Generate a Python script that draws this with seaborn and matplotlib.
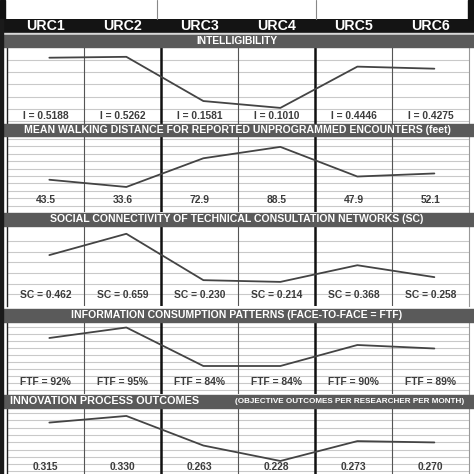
import numpy as np
import pandas as pd
import seaborn as sns
import matplotlib.pyplot as plt
from matplotlib.patches import Rectangle
from matplotlib.lines import Line2D
from matplotlib.transforms import blended_transform_factory

# dados
urcs = ['URC1', 'URC2', 'URC3', 'URC4', 'URC5', 'URC6']
intelligibility = [0.5188, 0.5262, 0.1581, 0.1010, 0.4446, 0.4275]
walking = [43.5, 33.6, 72.9, 88.5, 47.9, 52.1]
connectivity = [0.462, 0.659, 0.230, 0.214, 0.368, 0.258]
ftf = [92, 95, 84, 84, 90, 89]
outcomes = [0.315, 0.330, 0.263, 0.228, 0.273, 0.270]

intel_labels = ['I = 0.5188', 'I = 0.5262', 'I = 0.1581', 'I = 0.1010', 'I = 0.4446', 'I = 0.4275']
walk_labels = ['43.5', '33.6', '72.9', '88.5', '47.9', '52.1']
sc_labels = ['SC = 0.462', 'SC = 0.659', 'SC = 0.230', 'SC = 0.214', 'SC = 0.368', 'SC = 0.258']
ftf_labels = ['FTF = 92%', 'FTF = 95%', 'FTF = 84%', 'FTF = 84%', 'FTF = 90%', 'FTF = 89%']
out_labels = ['0.315', '0.330', '0.263', '0.228', '0.273', '0.270']

sns.set_style('white')
plt.rcParams['font.family'] = ['Liberation Sans', 'DejaVu Sans']

W = H = 474
fig = plt.figure(figsize=(4.74, 4.74), dpi=100)
fig.patch.set_facecolor('white')

X0, X1 = 7, 469


def px_axes(x0, y0, x1, y1, **kw):
    return fig.add_axes([x0 / W, 1 - y1 / H, (x1 - x0) / W, (y1 - y0) / H], **kw)


def rect(x0, y0, x1, y1, color):
    fig.patches.append(Rectangle((x0 / W, 1 - y1 / H), (x1 - x0) / W, (y1 - y0) / H,
                                 transform=fig.transFigure, color=color, zorder=0))


def vline(x, y0, y1, color, lw):
    fig.add_artist(Line2D([x / W, x / W], [1 - y0 / H, 1 - y1 / H], transform=fig.transFigure,
                          color=color, lw=lw, zorder=5))


# topo (imagens cortadas)
rect(0, 0, 5, 19, '#111111')
rect(468, 0, 474, 19, '#111111')
vline(157, 0, 19, '#888888', 0.8)
vline(316, 0, 19, '#888888', 0.8)

# cabecalho URC
hdr = px_axes(0, 19, 474, 33)
hdr.set_facecolor('#141414')
hdr.set_xlim(0, 474)
hdr.set_ylim(0, 1)
hdr.set_xticks([])
hdr.set_yticks([])
for s in hdr.spines.values():
    s.set_visible(False)
col_w = (X1 - X0) / 6
for i, u in enumerate(urcs):
    hdr.text(X0 + (i + 0.5) * col_w, 0.5, u, color='white', fontsize=10.3, fontweight='bold',
             ha='center', va='center')
rect(0, 33, 474, 35, '#d8d8d8')

# titulos das seccoes
bars = [(35, 47), (124, 136), (213, 226), (309, 322), (395, 408)]
titles = [('INTELLIGIBILITY', 7.4),
          ('MEAN WALKING DISTANCE FOR REPORTED UNPROGRAMMED ENCOUNTERS (feet)', 7.6),
          ('SOCIAL CONNECTIVITY OF TECHNICAL CONSULTATION NETWORKS (SC)', 7.6),
          ('INFORMATION CONSUMPTION PATTERNS (FACE-TO-FACE = FTF)', 7.6),
          None]
for (b0, b1), t in zip(bars, titles):
    rect(0, b0, 474, b1, '#5a5a5a')
    yc = 1 - (b0 + b1) / 2 / H
    if t is not None:
        fig.text(237 / W, yc, t[0], color='white', fontsize=t[1], fontweight='bold', ha='center', va='center')
yc = 1 - (bars[4][0] + bars[4][1]) / 2 / H
fig.text(10 / W, yc, 'INNOVATION PROCESS OUTCOMES', color='white', fontsize=7.8, fontweight='bold',
         ha='left', va='center')
fig.text(464 / W, yc, '(OBJECTIVE OUTCOMES PER RESEARCHER PER MONTH)', color='white', fontsize=5.9,
         fontweight='bold', ha='right', va='center')

# paineis
panels = [
    (intelligibility, intel_labels, 47, 124, (-0.033, 0.608), 12.2, 60, 116),
    (walking, walk_labels, 136, 212, (-0.68, 103.4), 7.4, 139, 200),
    (connectivity, sc_labels, 226, 306, (-0.009, 0.731), 10.7, 241, 295),
    (ftf, ftf_labels, 322, 394, (76.0, 96.57), 7.0, 327, 382),
    (outcomes, out_labels, 408, 474, (0.1985, 0.348), 7.3, 413, 467),
]

for vals, labs, y0, y1, ylim, step, gstart, ly in panels:
    ax = px_axes(X0, y0, X1, y1)
    ax.set_facecolor('white')
    h = y1 - y0
    for gy in np.arange(gstart, y1 - 2, step):
        f = (y1 - gy) / h
        ax.add_line(Line2D([0, 1], [f, f], transform=ax.transAxes, color='#c9c9c9', lw=0.8, zorder=1))
    for k in range(1, 6):
        if k in (2, 4):
            ax.axvline(k, color='#111111', lw=1.8, zorder=2)
        else:
            ax.axvline(k, color='#555555', lw=0.8, zorder=2)
    df = pd.DataFrame({'x': np.arange(6) + 0.55, 'v': vals})
    sns.lineplot(data=df, x='x', y='v', ax=ax, color='#444444', lw=1.3, zorder=3)
    tr = blended_transform_factory(ax.transData, ax.transAxes)
    for i, lab in enumerate(labs):
        ax.text(i + 0.5, (y1 - ly) / h, lab, transform=tr, color='#3c3c3c', fontsize=7.4,
                fontweight='bold', ha='center', va='center', zorder=4)
    ax.set_xlim(0, 6)
    ax.set_ylim(*ylim)
    ax.set_xticks([])
    ax.set_yticks([])
    ax.set_xlabel('')
    ax.set_ylabel('')
    for s in ax.spines.values():
        s.set_visible(False)
    ax.spines['left'].set_visible(True)
    ax.spines['left'].set_color('#222222')
    ax.spines['left'].set_linewidth(1.0)
    ax.spines['right'].set_visible(True)
    ax.spines['right'].set_color('#999999')
    ax.spines['right'].set_linewidth(0.8)

rect(0, 19, 3, 474, '#1a1a1a')

fig.savefig('out.png', dpi=100)
